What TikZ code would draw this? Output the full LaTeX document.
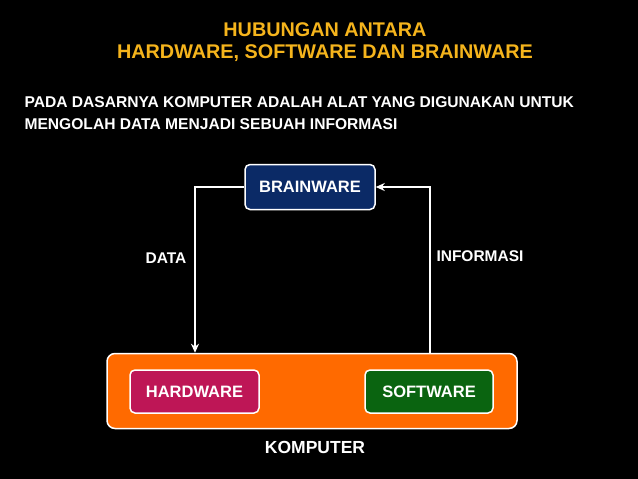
\documentclass[tikz,border=0pt]{standalone}
\usepackage{fontspec}
\setmainfont{Liberation Sans}
\usetikzlibrary{arrows.meta}
\definecolor{ttl}{HTML}{F5B41C}
\definecolor{navy}{HTML}{0B2A66}
\definecolor{org}{HTML}{FF6A00}
\definecolor{hw}{HTML}{BE1656}
\definecolor{sw}{HTML}{0A6410}
\tikzset{
 box/.style={draw=white,line width=1.5pt,rounded corners=5pt,text=white,font=\bfseries\fontsize{16.5}{20}\selectfont},
 lbl/.style={text=white,font=\bfseries\fontsize{15.5}{18}\selectfont},
 conn/.style={draw=white,line width=1.5pt,-{Stealth[length=9pt,width=8pt]}}
}
\begin{document}
\begin{tikzpicture}[x=1pt,y=-1pt]
\fill[black] (0,0) rectangle (638,479);
\useasboundingbox (0,0) rectangle (638,479);
\node[text=ttl,font=\bfseries\fontsize{19.8}{23}\selectfont,align=center] (title) at (325,42) {HUBUNGAN ANTARA\\[-1pt]HARDWARE, SOFTWARE DAN BRAINWARE};
\node[lbl,anchor=west,align=left,font=\bfseries\fontsize{15.6}{22}\selectfont] (para) at (21,113) {PADA DASARNYA KOMPUTER ADALAH ALAT YANG DIGUNAKAN UNTUK\\MENGOLAH DATA MENJADI SEBUAH INFORMASI};
\node[box,fill=org,minimum width=410,minimum height=75,rounded corners=8pt] (komp) at (312,391) {};
\node[box,fill=navy,minimum width=130,minimum height=45] (brain) at (310,187) {BRAINWARE};
\node[box,fill=hw,minimum width=129,minimum height=43] (hard) at (194.5,391.5) {HARDWARE};
\node[box,fill=sw,minimum width=128,minimum height=43] (soft) at (429,391.5) {SOFTWARE};
\coordinate (lt) at (195,187);
\coordinate (rb) at (430,354);
\coordinate (rt) at (430,187);
\draw[conn] (brain.west) -- (lt) -- (lt |- komp.north);
\draw[conn] (rb) -- (rt) -- (brain.east);
\node[lbl] (data) at (166,258) {DATA};
\node[lbl] (info) at (480,256) {INFORMASI};
\node[lbl,font=\bfseries\fontsize{17.5}{20}\selectfont] (kl) at (315,447) {KOMPUTER};
\end{tikzpicture}
\end{document}
